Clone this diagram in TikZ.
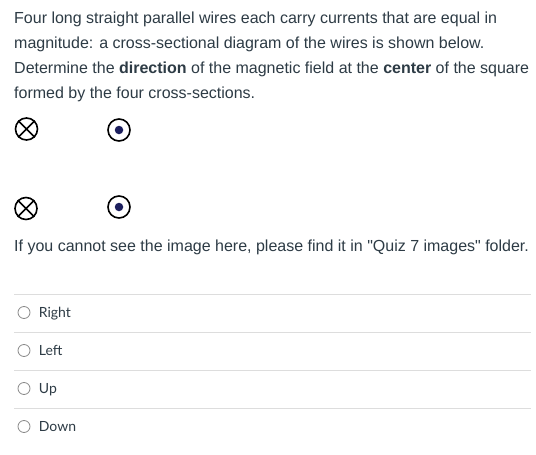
\documentclass[tikz,border=0pt]{standalone}
\usepackage{fontspec}
\setmainfont{Liberation Sans}[Ligatures=TeXOff]
\newfontfamily\latofont{Lato}
\definecolor{txt}{HTML}{2D3B45}
\definecolor{sep}{HTML}{DDDDDD}
\definecolor{radio}{HTML}{8A8A8A}
\definecolor{dotc}{HTML}{1C1F5E}
\begin{document}
\begin{tikzpicture}[x=1pt,y=-1pt,
  qline/.style={anchor=base west,inner sep=0pt,text=txt,font=\fontsize{16}{20}\selectfont},
  optlabel/.style={anchor=base west,inner sep=0pt,text=txt,font=\latofont\fontsize{14}{17}\selectfont},
  wire/.style={circle,draw=black,line width=1.6pt,minimum size=22pt,inner sep=0pt},
  dotmark/.style={circle,fill=dotc,minimum size=8.5pt,inner sep=0pt},
  radiobtn/.style={circle,draw=radio,line width=0.8pt,minimum size=12pt,inner sep=0pt},
  sepline/.style={draw=sep,line width=1pt}]
\useasboundingbox (0,0) rectangle (536,455);
\fill[white] (0,0) rectangle (536,455);
% question text
\node[qline] (l1) at (14,23.2) {Four long straight parallel wires each carry currents that are equal in};
\node[qline] (l2) at (14,48.2) {magnitude: a cross-sectional diagram of the wires is shown below.};
\node[qline] (l3) at (14,73.2) {Determine the \textbf{direction} of the magnetic field at the \textbf{center} of the square};
\node[qline] (l4) at (14,98.2) {formed by the four cross-sections.};
% wires
\node[wire] (w1) at (26.5,129) {};
\node[wire] (w2) at (119,130) {};
\node[wire] (w3) at (26,208.5) {};
\node[wire] (w4) at (119,207) {};
\draw[line width=1.6pt] (w1.45) -- (w1.225) (w1.135) -- (w1.315);
\draw[line width=1.6pt] (w3.45) -- (w3.225) (w3.135) -- (w3.315);
\node[dotmark] (d2) at (w2.center) {};
\node[dotmark] (d4) at (w4.center) {};
\node[qline] (note) at (14,251) {If you cannot see the image here, please find it in "Quiz 7 images" folder.};
% separators
\coordinate (s1a) at (14,294.3); \coordinate (s1b) at (531,294.3);
\coordinate (s2a) at (14,332.3); \coordinate (s2b) at (531,332.3);
\coordinate (s3a) at (14,370.3); \coordinate (s3b) at (531,370.3);
\coordinate (s4a) at (14,408.3); \coordinate (s4b) at (531,408.3);
\draw[sepline] (s1a) -- (s1b);
\draw[sepline] (s2a) -- (s2b);
\draw[sepline] (s3a) -- (s3b);
\draw[sepline] (s4a) -- (s4b);
% options
\node[radiobtn] (r1) at (24,312.5) {};
\node[radiobtn] (r2) at (24,350.5) {};
\node[radiobtn] (r3) at (24,388.5) {};
\node[radiobtn] (r4) at (24,426.5) {};
\node[optlabel] (o1) at (38.7,317.3) {Right};
\node[optlabel] (o2) at (38.7,355.3) {Left};
\node[optlabel] (o3) at (38.7,393.3) {Up};
\node[optlabel] (o4) at (38.7,431.3) {Down};
\end{tikzpicture}
\end{document}
